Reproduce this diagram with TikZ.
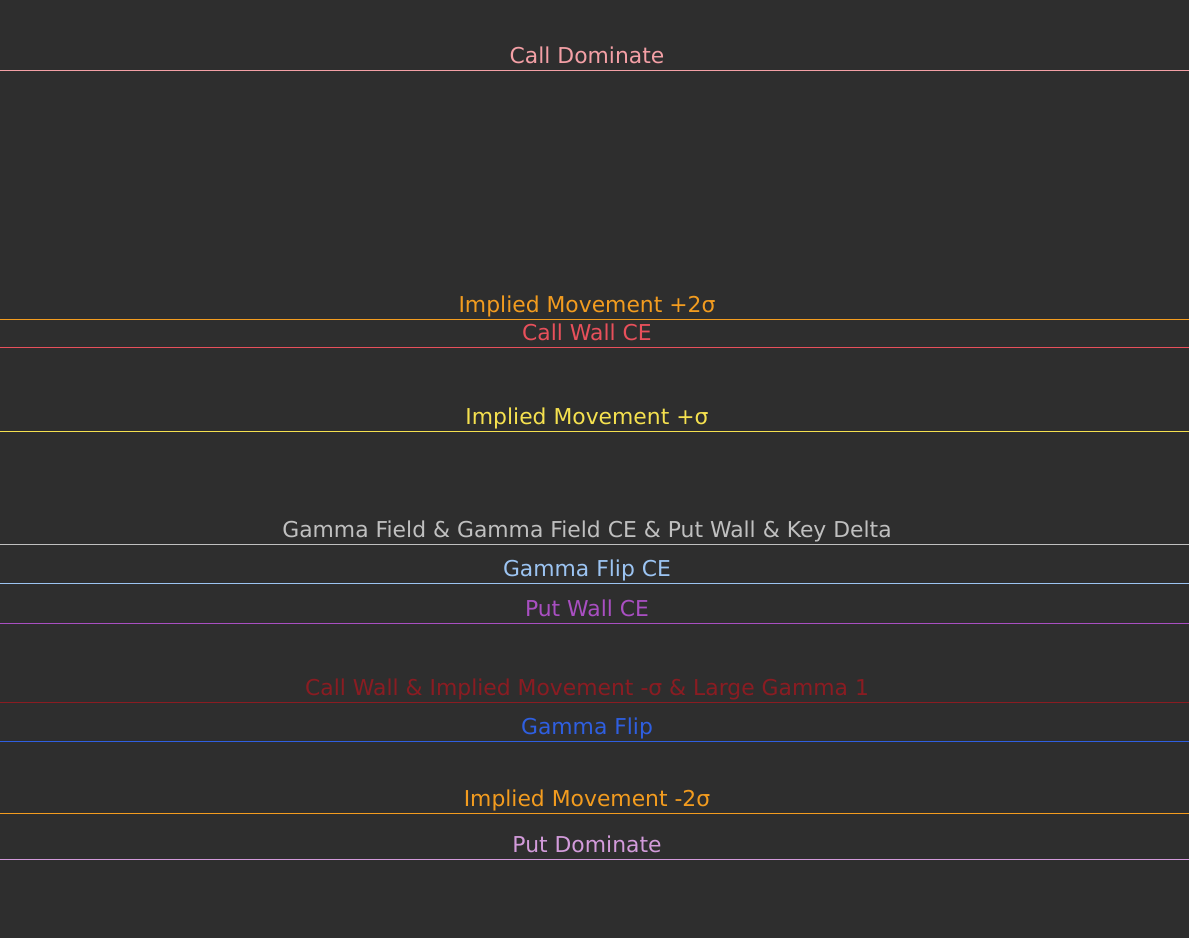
\documentclass[tikz,border=0pt]{standalone}
\usepackage{fontspec}
\setmainfont{DejaVu Sans}
\definecolor{bg}{HTML}{2E2E2E}
\definecolor{cpink}{HTML}{F4A0A6}
\definecolor{corange}{HTML}{F39C1F}
\definecolor{cred}{HTML}{E8505B}
\definecolor{cyellow}{HTML}{F5E14F}
\definecolor{cgray}{HTML}{C0C0C0}
\definecolor{clblue}{HTML}{9CC4F2}
\definecolor{cpurple}{HTML}{A94FC2}
\definecolor{cdred}{HTML}{8A1C22}
\definecolor{cblue}{HTML}{2F5FE0}
\definecolor{clav}{HTML}{D39BDB}
\tikzset{lvl/.style={line width=0.75pt},
  lbl/.style={font=\fontsize{16.4}{19}\selectfont, anchor=base, inner sep=0pt}}
\begin{document}
\begin{tikzpicture}[x=0.75pt,y=-0.75pt]
\fill[bg] (0,0) rectangle (1189,938);
\useasboundingbox (0,0) rectangle (1189,938);
\foreach \y/\c/\t [count=\i] in {
 71/cpink/Call Dominate,
 319/corange/Implied Movement +2σ,
 347/cred/Call Wall CE,
 431/cyellow/Implied Movement +σ,
 544/cgray/Gamma Field \& Gamma Field CE \& Put Wall \& Key Delta,
 583/clblue/Gamma Flip CE,
 623/cpurple/Put Wall CE,
 702/cdred/Call Wall \& Implied Movement -σ \& Large Gamma 1,
 741/cblue/Gamma Flip,
 813/corange/Implied Movement -2σ,
 859/clav/Put Dominate}{
 \coordinate (l\i) at (0,\y);
 \coordinate (r\i) at (1189,\y);
 \draw[lvl,\c] (l\i) -- (r\i);
 \node[lbl,text=\c] (t\i) at (587,\y-7) {\t};
}
\end{tikzpicture}
\end{document}
